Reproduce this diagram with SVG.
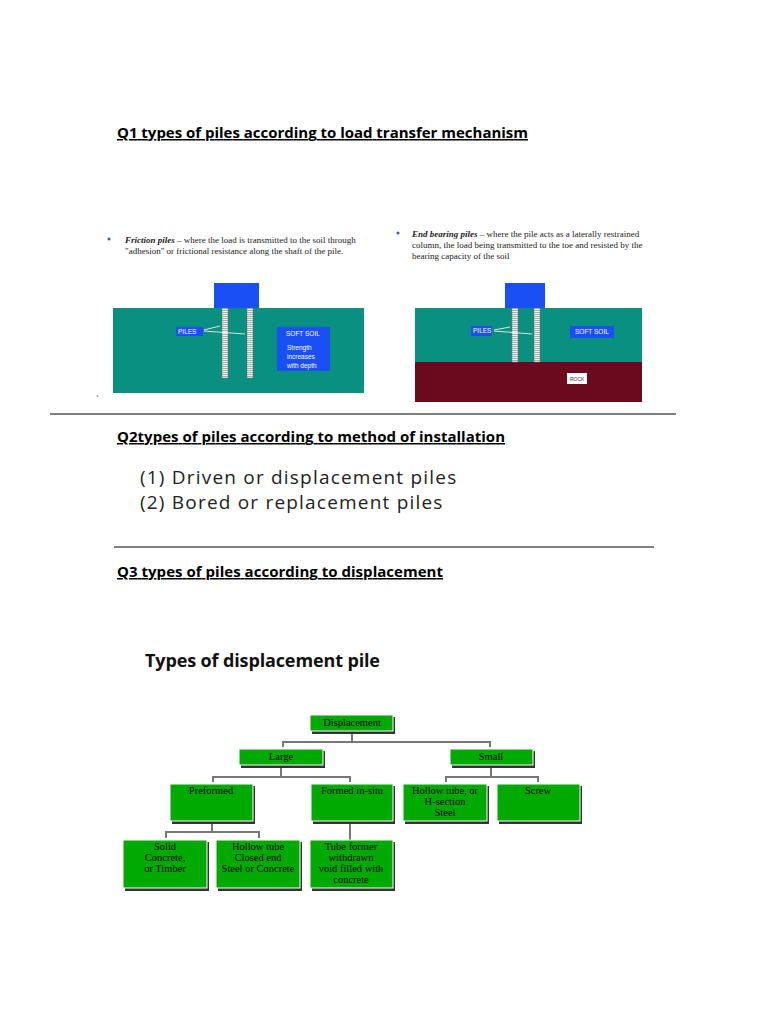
<svg xmlns="http://www.w3.org/2000/svg" width="768" height="1024" viewBox="0 0 768 1024">
<style>
.h{font-family:"Open Sans","Liberation Sans",sans-serif;font-weight:bold;font-size:15px;text-decoration:underline}
.s{font-family:"Liberation Serif",serif;font-size:9px;fill:#222}
.w{font-family:"Liberation Sans",sans-serif;font-size:6.5px;fill:#fff}
.b{fill:#00aa00;stroke:#fff;stroke-width:1}
.sh{fill:#333}
.t{font-family:"Liberation Serif",serif;font-size:10.5px;fill:#000;text-anchor:middle}
.c{stroke:#777;stroke-width:2;fill:none}
.q{font-family:"Open Sans","Liberation Sans",sans-serif;font-size:19px;fill:#222;letter-spacing:1.2px}
</style>
<defs>
<pattern id="ph" width="6" height="2" patternUnits="userSpaceOnUse"><rect width="6" height="2" fill="#f2f2f2"/><rect width="6" height="0.8" fill="#999"/></pattern>
</defs>
<rect width="768" height="1024" fill="#fff"/>
<text class="h" x="117" y="138" textLength="411">Q1 types of piles according to load transfer mechanism</text>
<g id="friction">
<circle cx="109" cy="239" r="1.5" fill="#3355cc"/>
<text class="s" x="125" y="243"><tspan font-style="italic" font-weight="bold">Friction piles</tspan> – where the load is transmitted to the soil through</text>
<text class="s" x="125" y="254">"adhesion" or frictional resistance along the shaft of the pile.</text>
<rect x="113" y="308" width="251" height="85" fill="#0a9080"/>
<rect x="214" y="283" width="45" height="25" fill="#1a4ff5"/>
<rect x="222" y="308" width="6" height="70" fill="url(#ph)" stroke="#777" stroke-width="0.5"/>
<rect x="247" y="308" width="6" height="70" fill="url(#ph)" stroke="#777" stroke-width="0.5"/>
<rect x="176" y="327" width="27" height="9" fill="#1a4ff5"/>
<text class="w" x="178" y="334">PILES</text>
<path d="M204 330 L220 326 M204 331 L245 334" stroke="#fff" stroke-width="0.8"/>
<rect x="277" y="327" width="53" height="44" fill="#1a4ff5"/>
<text class="w" x="286" y="336">SOFT SOIL</text>
<text class="w" x="287" y="350" font-size="7.5">Strength</text>
<text class="w" x="287" y="359" font-size="7.5">increases</text>
<text class="w" x="287" y="368" font-size="7.5">with depth</text>
<text class="s" x="96" y="402" font-size="7">`</text>
</g>
<g id="endbearing">
<circle cx="398" cy="233" r="1.5" fill="#3355cc"/>
<text class="s" x="412" y="237"><tspan font-style="italic" font-weight="bold">End bearing piles</tspan> – where the pile acts as a laterally restrained</text>
<text class="s" x="412" y="248">column, the load being transmitted to the toe and resisted by the</text>
<text class="s" x="412" y="259">bearing capacity of the soil</text>
<rect x="415" y="308" width="227" height="54" fill="#0a9080"/>
<rect x="415" y="362" width="227" height="40" fill="#6b0a1e"/>
<rect x="505" y="283" width="40" height="25" fill="#1a4ff5"/>
<rect x="512" y="308" width="6" height="54" fill="url(#ph)" stroke="#777" stroke-width="0.5"/>
<rect x="534" y="308" width="6" height="54" fill="url(#ph)" stroke="#777" stroke-width="0.5"/>
<rect x="471" y="326" width="21" height="10" fill="#1a4ff5"/>
<text class="w" x="473" y="333" font-size="5.5">PILES</text>
<path d="M494 330 L510 327 M494 331 L532 334" stroke="#fff" stroke-width="0.8"/>
<rect x="570" y="326" width="44" height="12" fill="#1a4ff5"/>
<text class="w" x="575" y="334" font-size="5.5">SOFT SOIL</text>
<rect x="567" y="373" width="20" height="11" fill="#fff"/>
<text x="570" y="381" font-family="Liberation Sans,sans-serif" font-size="5" fill="#333">ROCK</text>
</g>
<line x1="50" y1="414" x2="676" y2="414" stroke="#000" stroke-width="1"/>
<text class="h" x="117" y="442" textLength="388">Q2types of piles according to method of installation</text>
<text class="q" x="140" y="484">(1) Driven or displacement piles</text>
<text class="q" x="140" y="509">(2) Bored or replacement piles</text>
<line x1="114" y1="547" x2="654" y2="547" stroke="#000" stroke-width="1"/>
<text class="h" x="117" y="577" textLength="326">Q3 types of piles according to displacement</text>
<text x="145" y="667" font-family="Open Sans,Liberation Sans,sans-serif" font-weight="bold" font-size="18" fill="#111" textLength="235">Types of displacement pile</text>
<g id="connectors">
<path class="c" d="M352 731 V742 M283 747 V742 H490 V747"/>
<path class="c" d="M281 765 V777 M213 782 V777 H350 V782"/>
<path class="c" d="M491 765 V777 M446 782 V777 H538 V782"/>
<path class="c" d="M212 821 V832 M166 838 V832 H259 V838"/>
<path class="c" d="M350 821 V840" stroke="#ddd"/>
</g>
<g id="n-displacement"><rect class="sh" x="312" y="717" width="83" height="17"/><rect class="b" x="310" y="715" width="83" height="16"/><text class="t" x="352" y="726">Displacement</text></g>
<g id="n-large"><rect class="sh" x="241" y="751" width="84" height="17"/><rect class="b" x="239" y="749" width="84" height="16"/><text class="t" x="281" y="760">Large</text></g>
<g id="n-small"><rect class="sh" x="452" y="751" width="83" height="17"/><rect class="b" x="450" y="749" width="83" height="16"/><text class="t" x="491" y="760">Small</text></g>
<g id="n-preformed"><rect class="sh" x="172" y="786" width="83" height="38"/><rect class="b" x="170" y="784" width="83" height="37"/><text class="t" x="211" y="794">Preformed</text></g>
<g id="n-insitu"><rect class="sh" x="313" y="786" width="82" height="38"/><rect class="b" x="311" y="784" width="82" height="37"/><text class="t" x="352" y="794">Formed in-situ</text></g>
<g id="n-hollowsteel"><rect class="sh" x="405" y="786" width="84" height="38"/><rect class="b" x="403" y="784" width="84" height="37"/><text class="t" x="445" y="794">Hollow tube, or</text><text class="t" x="445" y="805">H-section</text><text class="t" x="445" y="816">Steel</text></g>
<g id="n-screw"><rect class="sh" x="499" y="786" width="83" height="38"/><rect class="b" x="497" y="784" width="83" height="37"/><text class="t" x="538" y="794">Screw</text></g>
<g id="n-solid"><rect class="sh" x="125" y="842" width="84" height="49"/><rect class="b" x="123" y="840" width="84" height="48"/><text class="t" x="165" y="850">Solid</text><text class="t" x="165" y="861">Concrete,</text><text class="t" x="165" y="872">or Timber</text></g>
<g id="n-hollowclosed"><rect class="sh" x="218" y="842" width="84" height="49"/><rect class="b" x="216" y="840" width="84" height="48"/><text class="t" x="258" y="850">Hollow tube</text><text class="t" x="258" y="861">Closed end</text><text class="t" x="258" y="872">Steel or Concrete</text></g>
<g id="n-tubeformer"><rect class="sh" x="312" y="842" width="83" height="49"/><rect class="b" x="310" y="840" width="83" height="48"/><text class="t" x="351" y="850">Tube former</text><text class="t" x="351" y="861">withdrawn</text><text class="t" x="351" y="872">void filled with</text><text class="t" x="351" y="883">concrete</text></g>
</svg>
